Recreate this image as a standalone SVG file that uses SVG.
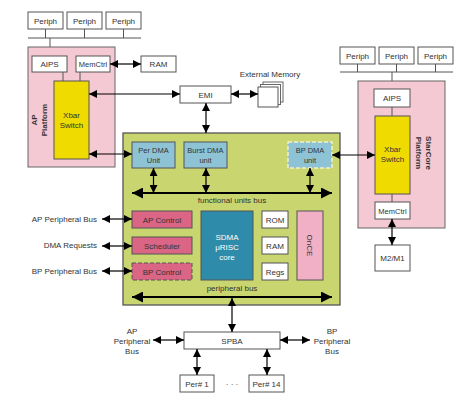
<svg xmlns="http://www.w3.org/2000/svg" width="474" height="404" viewBox="0 0 474 404">
<style>
text{font-family:"Liberation Sans",Arial,sans-serif;font-size:8px;fill:#333;text-anchor:middle}
.b{fill:#fff;stroke:#555;stroke-width:1}
.plat{fill:#F4C9D3;stroke:#666;stroke-width:1}
.xbar{fill:#F0DB00;stroke:#555;stroke-width:1}
.dma{fill:#8EC3D6;stroke:#555;stroke-width:1}
.dash{stroke:#F5F0C8;stroke-dasharray:4 2;stroke-width:1.5}
.ctl{fill:#DB6585;stroke:#555;stroke-width:1}
.ln{stroke:#555;stroke-width:1;fill:none}
.ar{stroke:#000;stroke-width:1.2;fill:none;marker-start:url(#a);marker-end:url(#a)}
.bus{stroke:#000;stroke-width:2;fill:none;marker-start:url(#B);marker-end:url(#B)}
.bold{font-weight:bold}
.r{text-anchor:end}
</style>
<defs>
<marker id="a" viewBox="0 0 10 10" refX="10" refY="5" markerWidth="8" markerHeight="8" markerUnits="userSpaceOnUse" orient="auto-start-reverse"><path d="M0,0 L10,5 L0,10 z" fill="#000"/></marker>
<marker id="B" viewBox="0 0 10 10" refX="10" refY="5" markerWidth="13" markerHeight="11" markerUnits="userSpaceOnUse" orient="auto-start-reverse"><path d="M0,0 L10,5 L0,10 z" fill="#000"/></marker>
</defs>

<g id="ap-periph">
<rect class="b" x="28" y="12" width="35" height="17"/><text x="45.5" y="23.5">Periph</text>
<rect class="b" x="67" y="12" width="35" height="17"/><text x="84.5" y="23.5">Periph</text>
<rect class="b" x="106" y="12" width="35" height="17"/><text x="123.5" y="23.5">Periph</text>
<path class="ln" d="M28,38 H141 M45.5,29 V38 M84.5,29 V38 M123.5,29 V38 M50,38 V56"/>
</g>

<g id="ap-platform">
<rect class="plat" x="28" y="47" width="87" height="120"/>
<text class="bold" transform="translate(37,120) rotate(-90)">AP</text>
<text class="bold" transform="translate(47,120) rotate(-90)">Platform</text>
<rect class="b" x="32" y="56" width="35" height="16"/><text x="49.5" y="67">AIPS</text>
<rect class="b" x="76" y="56" width="34" height="16"/><text x="93" y="67" style="font-size:7.5px">MemCtrl</text>
<rect class="xbar" x="54" y="81" width="35" height="78"/>
<text x="71.5" y="118">Xbar</text><text x="71.5" y="128">Switch</text>
<path class="ln" d="M63,72 V81 M80,72 V81"/>
</g>

<g id="ram"><rect class="b" x="141" y="56" width="35" height="16"/><text x="158.5" y="67">RAM</text></g>

<g id="emi"><rect class="b" x="180" y="86" width="51" height="17"/><text x="205.5" y="97.5">EMI</text></g>

<g id="ext-mem">
<text x="270" y="77">External Memory</text>
<rect x="263" y="82" width="20" height="20" fill="#fff" stroke="#666" stroke-width="1"/>
<rect x="260.5" y="84.5" width="20" height="20" fill="#fff" stroke="#666" stroke-width="1"/>
<rect x="258" y="87" width="20" height="20" fill="#fff" stroke="#555" stroke-width="1"/>
</g>

<g id="sdma">
<rect x="123" y="133" width="217" height="172" fill="#C9D56F" stroke="#555" stroke-width="1.3"/>
<rect class="dma" x="132" y="142" width="43" height="26"/><text x="153.5" y="153" style="font-size:7.5px">Per DMA</text><text x="153.5" y="163" style="font-size:7.5px">Unit</text>
<rect class="dma" x="184" y="142" width="43" height="26"/><text x="205.5" y="153" style="font-size:7.5px">Burst DMA</text><text x="205.5" y="163" style="font-size:7.5px">unit</text>
<rect class="dma dash" x="288" y="142" width="44" height="26"/><text x="310" y="153" style="font-size:7.5px">BP DMA</text><text x="310" y="163" style="font-size:7.5px">unit</text>
<text x="232" y="203">functional units bus</text>
<rect class="ctl" x="132" y="211" width="60" height="17"/><text x="162" y="222.5">AP Control</text>
<rect class="ctl" x="132" y="237" width="60" height="17"/><text x="162" y="248.5">Scheduler</text>
<rect class="ctl dash" x="132" y="263" width="60" height="17"/><text x="162" y="274.5">BP Control</text>
<rect x="201" y="211" width="52" height="69" fill="#2E8BAA" stroke="#555" stroke-width="1"/>
<text x="227" y="240" style="fill:#fff">SDMA</text><text x="227" y="250" style="fill:#fff">μRISC</text><text x="227" y="259.5" style="fill:#fff">core</text>
<rect class="b" x="262" y="211" width="26" height="17"/><text x="275" y="222.5">ROM</text>
<rect class="b" x="262" y="237" width="26" height="17"/><text x="275" y="248.5">RAM</text>
<rect class="b" x="262" y="263" width="26" height="17"/><text x="275" y="274.5">Regs</text>
<rect x="297" y="211" width="26" height="69" fill="#F1B0C6" stroke="#555" stroke-width="1"/>
<text transform="translate(307,245.5) rotate(90)">OnCE</text>
<text x="232" y="291">peripheral bus</text>
</g>

<g id="sc-periph">
<rect class="b" x="340" y="47" width="35" height="17"/><text x="357.5" y="58.5">Periph</text>
<rect class="b" x="379" y="47" width="35" height="17"/><text x="396.5" y="58.5">Periph</text>
<rect class="b" x="418" y="47" width="35" height="17"/><text x="435.5" y="58.5">Periph</text>
<path class="ln" d="M340,72 H453 M357.5,64 V72 M396.5,64 V72 M435.5,64 V72 M392,72 V89"/>
</g>

<g id="sc-platform">
<rect class="plat" x="358" y="81" width="87" height="147"/>
<text class="bold" transform="translate(426,153) rotate(90)">StarCore</text>
<text class="bold" transform="translate(416,153) rotate(90)">Platform</text>
<rect class="b" x="374" y="89" width="36" height="18"/><text x="392" y="101">AIPS</text>
<rect class="xbar" x="375" y="116" width="35" height="78"/>
<text x="392.5" y="152">Xbar</text><text x="392.5" y="162">Switch</text>
<rect class="b" x="375" y="202" width="35" height="17"/><text x="392.5" y="213.5" style="font-size:7.5px">MemCtrl</text>
<path class="ln" d="M392,107 V116 M392,194 V202"/>
</g>

<g id="m2m1"><rect class="b" x="375" y="245" width="35" height="26"/><text x="392.5" y="261">M2/M1</text></g>

<g id="left-labels">
<text class="r" x="97" y="221.5">AP Peripheral Bus</text>
<text class="r" x="97" y="248">DMA Requests</text>
<text class="r" x="97" y="273.5">BP Peripheral Bus</text>
</g>

<g id="spba"><rect class="b" x="184" y="332" width="96" height="17"/><text x="232" y="343.5">SPBA</text></g>
<g id="ap-pbus"><text x="132" y="334">AP</text><text x="132" y="344">Peripheral</text><text x="132" y="353.5">Bus</text></g>
<g id="bp-pbus"><text x="332" y="334">BP</text><text x="332" y="344">Peripheral</text><text x="332" y="353.5">Bus</text></g>
<g id="per1"><rect class="b" x="180" y="375" width="34" height="17"/><text x="197" y="386.5">Per# 1</text></g>
<g id="dots"><text x="232" y="386.5">· · ·</text></g>
<g id="per14"><rect class="b" x="249" y="375" width="35" height="17"/><text x="266.5" y="386.5">Per# 14</text></g>

<g id="connectors">
<path class="ar" d="M110,64 H141"/>
<path class="ar" d="M89,94 H180"/>
<path class="ar" d="M231,94 H258"/>
<path class="ar" d="M206,103 V133"/>
<path class="ar" d="M89,154 H132"/>
<path class="ar" d="M332,155 H375"/>
<path class="bus" d="M132,193 H332"/>
<path class="ar" d="M153.5,168 V193"/>
<path class="ar" d="M206,168 V193"/>
<path class="ar" d="M310,168 V193"/>
<path class="ar" d="M102,219 H132"/>
<path class="ar" d="M102,246 H132"/>
<path class="ar" d="M102,271 H132"/>
<path class="bus" d="M132,297 H332"/>
<path class="ar" d="M232,298 V332"/>
<path class="ar" d="M153,340 H184"/>
<path class="ar" d="M280,340 H310"/>
<path class="ar" d="M197,349 V375"/>
<path class="ar" d="M267,349 V375"/>
<path class="ar" d="M392,219 V245"/>
</g>
</svg>
